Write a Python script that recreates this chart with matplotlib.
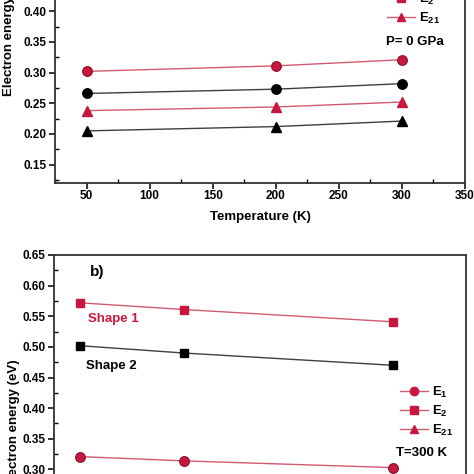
import matplotlib.pyplot as plt
from matplotlib.lines import Line2D
from matplotlib.ticker import MultipleLocator

plt.rcParams['font.family'] = ['Liberation Sans', 'DejaVu Sans']
plt.rcParams['font.weight'] = 'bold'
plt.rcParams['mathtext.fontset'] = 'custom'
plt.rcParams['mathtext.bf'] = 'Liberation Sans:bold'
plt.rcParams['mathtext.rm'] = 'Liberation Sans:bold'

RED = '#c8173f'
RED_LINE = '#d05a70'
GREY_LINE = '#404040'

# panel a) : temperature dependence, P = 0 GPa
temperature = [50, 200, 300]
a_e1_shape1 = [0.302, 0.311, 0.321]
a_e1_shape2 = [0.266, 0.273, 0.282]
a_e21_shape1 = [0.238, 0.244, 0.252]
a_e21_shape2 = [0.205, 0.212, 0.221]

# panel b) : pressure dependence, T = 300 K
pressure = [0, 1, 3]
b_e2_shape1 = [0.572, 0.561, 0.541]
b_e2_shape2 = [0.502, 0.490, 0.470]
b_e1_shape1 = [0.321, 0.314, 0.303]

legend_labels = [r'$\mathbf{E_1}$', r'$\mathbf{E_2}$', r'$\mathbf{E_{21}}$']


def legend_handles():
    return [Line2D([], [], color=RED_LINE, lw=1, marker=m, ms=6,
                   mfc=RED, mec=RED) for m in ('o', 's', '^')]


def style_axes(ax):
    for s in ax.spines.values():
        s.set_linewidth(1.3)
        s.set_color('#333333')
    ax.tick_params(which='major', direction='out', length=4, width=1.1,
                   labelsize=8.5, pad=1.8)
    ax.tick_params(which='minor', direction='in', length=3, width=1.0)
    ax.yaxis.set_major_locator(MultipleLocator(0.05))
    ax.yaxis.set_minor_locator(MultipleLocator(0.025))
    ax.yaxis.set_major_formatter(plt.FormatStrFormatter('%.2f'))


def add_legend(ax, x_px, y_px):
    ax.legend(legend_handles(), legend_labels, loc='lower left',
              bbox_to_anchor=(x_px / 474, 1 - y_px / 474), bbox_transform=fig.transFigure,
              frameon=False, fontsize=9.5, handlelength=2.1, handletextpad=0.35,
              labelspacing=0.3, borderpad=0, borderaxespad=0)


fig = plt.figure(figsize=(4.74, 4.74), dpi=100)

# ---- top panel (partly outside the image) ----
ax1 = fig.add_axes([55 / 474, 1 - 183 / 474, 410 / 474, 325 / 474])
ax1.plot(temperature, a_e1_shape1, color=RED_LINE, lw=1, marker='o', ms=7,
         mfc=RED, mec='#8a0f2a', mew=0.8)
ax1.plot(temperature, a_e1_shape2, color=GREY_LINE, lw=1, marker='o', ms=7,
         mfc='black', mec='black', mew=0.8)
ax1.plot(temperature, a_e21_shape1, color=RED_LINE, lw=1, marker='^', ms=7,
         mfc=RED, mec=RED)
ax1.plot(temperature, a_e21_shape2, color=GREY_LINE, lw=1, marker='^', ms=7,
         mfc='black', mec='black')
ax1.set_xlim(25, 350)
ax1.set_ylim(0.12, 0.65)
ax1.xaxis.set_major_locator(MultipleLocator(50))
ax1.xaxis.set_minor_locator(MultipleLocator(25))
style_axes(ax1)
ax1.tick_params(axis='x', which='major', pad=0.8)
ax1.set_xlabel('Temperature (K)', fontsize=9.5, fontweight='bold', labelpad=7)
ax1.set_ylabel('Electron energy (eV)', fontsize=9.5, fontweight='bold')
ax1.yaxis.set_label_coords(-0.097, 0.465)
add_legend(ax1, 387, 26)
fig.text(415 / 474, 1 - 42 / 474, 'P= 0 GPa', ha='center', va='center',
         fontsize=9.5, fontweight='bold')

# ---- bottom panel (partly outside the image) ----
ax2 = fig.add_axes([53.5 / 474, 1 - 592 / 474, 412.5 / 474, 337 / 474])
ax2.plot(pressure, b_e2_shape1, color=RED_LINE, lw=1, marker='s', ms=6,
         mfc=RED, mec=RED)
ax2.plot(pressure, b_e2_shape2, color=GREY_LINE, lw=1, marker='s', ms=6,
         mfc='black', mec='black')
ax2.plot(pressure, b_e1_shape1, color=RED_LINE, lw=1, marker='o', ms=7,
         mfc=RED, mec='#8a0f2a', mew=0.8)
ax2.set_xlim(-0.25, 3.7)
ax2.set_ylim(0.10, 0.65)
style_axes(ax2)
ax2.set_ylabel('Electron energy (eV)', fontsize=9.5, fontweight='bold', labelpad=2)
add_legend(ax2, 400, 438)
fig.text(422 / 474, 1 - 453 / 474, 'T=300 K', ha='center', va='center',
         fontsize=9.5, fontweight='bold')
fig.text(90 / 474, 1 - 272 / 474, 'b)', ha='left', va='center',
         fontsize=11, fontweight='bold')
fig.text(88 / 474, 1 - 319 / 474, 'Shape 1', ha='left', va='center',
         fontsize=9.5, fontweight='bold', color=RED)
fig.text(86 / 474, 1 - 366 / 474, 'Shape 2', ha='left', va='center',
         fontsize=9.5, fontweight='bold', color='black')

fig.savefig('out.png', dpi=100)
